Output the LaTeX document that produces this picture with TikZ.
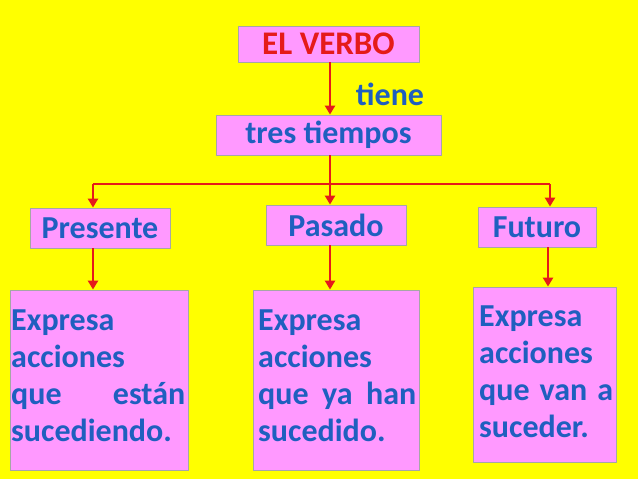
\documentclass[tikz,border=0pt]{standalone}
\usepackage{fontspec}
\setmainfont{Carlito}
\usetikzlibrary{arrows.meta}
\definecolor{bg}{HTML}{FFFF00}
\definecolor{pinkbox}{HTML}{FF99FF}
\definecolor{txtblue}{HTML}{1F5FBF}
\definecolor{arr}{HTML}{E51A1A}
\tikzset{
  pbox/.style={draw=gray!70,line width=0.8pt,fill=pinkbox,inner sep=0pt},
  conn/.style={arr,line width=2.5pt,-{Triangle[length=9pt,width=10pt]}},
  line/.style={arr,line width=2.5pt},
  lab/.style={font=\bfseries\fontsize{32}{37}\selectfont,text=txtblue},
}
\begin{document}
\begin{tikzpicture}[x=1pt,y=-1pt]
\fill[bg] (0,0) rectangle (638,479);
\useasboundingbox (0,0) rectangle (638,479);
\node[pbox,minimum width=181,minimum height=36] (verbo) at (328.5,44) {};
\node[font=\bfseries\fontsize{33}{37}\selectfont,text=arr] at (verbo) {EL VERBO};
\node[pbox,minimum width=225,minimum height=40] (tres) at (328.5,135) {};
\node[lab] at (tres) {tres tiempos};
\node[lab] (tiene) at (390,94) {tiene};
\node[pbox,minimum width=140,minimum height=40] (pres) at (100,228) {};
\node[lab] at (pres) {Presente};
\node[pbox,minimum width=140,minimum height=40] (pas) at (336,225) {};
\node[lab] at (pas) {Pasado};
\node[pbox,minimum width=118,minimum height=40] (fut) at (537,227) {};
\node[lab] at (fut) {Futuro};
\node[pbox,minimum width=178,minimum height=180] (d1) at (99,380) {};
\node[pbox,minimum width=166,minimum height=180] (d2) at (336,380) {};
\node[pbox,minimum width=143,minimum height=175] (d3) at (544.5,374.5) {};
\node[lab,anchor=north west,align=left,text width=174,inner sep=0pt] at (11,310) {Expresa\\acciones\\que\hfill están\\sucediendo.};
\node[lab,anchor=north west,align=left,text width=158,inner sep=0pt] at (258,310) {Expresa\\acciones\\que\hfill ya\hfill han\\sucedido.};
\node[lab,anchor=north west,align=left,text width=134,inner sep=0pt] at (479,306) {Expresa\\acciones\\que\hfill van\hfill a\\suceder.};
\coordinate (j) at (330,184);
\draw[conn] (verbo.south -| j) -- (tres.north -| j);
\draw[line] (tres.south -| j) -- (j);
\draw[line] (93,184) -- (550,184);
\draw[conn] (93,184) -- (pres.north -| 93,0);
\draw[conn] (j) -- (pas.north -| j);
\draw[conn] (550,184) -- (fut.north -| 550,0);
\draw[conn] (pres.south -| 93,0) -- (d1.north -| 93,0);
\draw[conn] (pas.south -| j) -- (d2.north -| j);
\draw[conn] (fut.south -| 548,0) -- (d3.north -| 548,0);
\end{tikzpicture}
\end{document}
